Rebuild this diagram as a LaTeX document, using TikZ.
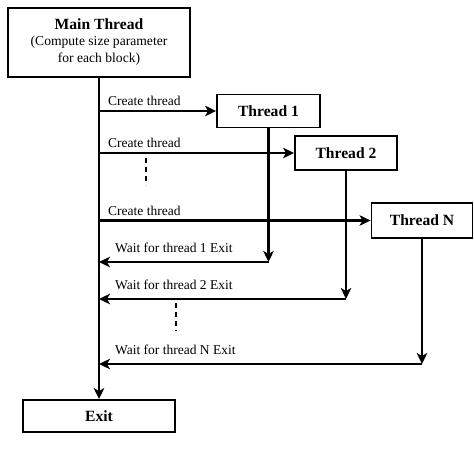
\documentclass[tikz,border=0pt]{standalone}
\usepackage{fontspec}
\setmainfont{Liberation Serif}
\usetikzlibrary{arrows.meta}
\begin{document}
\begin{tikzpicture}
[x=1pt,y=-1pt,
  boxdecorate/.style={shape=rectangle,draw,line width=1.9pt,inner sep=0pt,
    font=\fontsize{15.6}{17}\bfseries},%
  linedecorate/.style={line width=2.5pt,-{Stealth[length=11pt,width=10.5pt,inset=3pt]}},%
  labeldecorate/.style={anchor=south west,inner sep=0pt,font=\fontsize{13.5}{15}\selectfont},%
  dotdecorate/.style={line width=2pt,dash pattern=on 5pt off 4pt}]
\useasboundingbox (0,0) rectangle (474,457);
%%% main thread and exit
% nodes
\node (main) at (99,42.5) [boxdecorate,minimum width=182pt,minimum height=69pt,align=center]
  {Main Thread\\[-1pt]{\fontsize{13.6}{17}\mdseries\selectfont (Compute size parameter}\\
   {\fontsize{13.6}{17}\mdseries\selectfont for each block)}};
\node (exit) at (99,416) [boxdecorate,minimum width=152pt,minimum height=32pt] {Exit};
%%% worker threads
% nodes
\node (t1) at (268.5,111) [boxdecorate,minimum width=103pt,minimum height=33pt] {Thread 1};
\node (t2) at (346,153) [boxdecorate,minimum width=102pt,minimum height=34pt] {Thread 2};
\node (tn) at (422,220.5) [boxdecorate,minimum width=101pt,minimum height=35pt] {Thread N};
% corners where the threads end
\coordinate (w1) at (t1.south |- 0,262);
\coordinate (w2) at (t2.south |- 0,299);
\coordinate (wn) at (tn.south |- 0,364);
% edges or lines
\path
(main.south) edge[linedecorate] node {} (exit.north)
(main.south |- t1.west) edge[linedecorate] node {} (t1.west)
(main.south |- t2.west) edge[linedecorate] node {} (t2.west)
(main.south |- tn.west) edge[linedecorate] node {} (tn.west)
(t1.south) edge[linedecorate] node {} (w1)
(t2.south) edge[linedecorate] node {} (w2)
(tn.south) edge[linedecorate] node {} (wn)
(w1) edge[linedecorate] node {} (main.south |- w1)
(w2) edge[linedecorate] node {} (main.south |- w2)
(wn) edge[linedecorate] node {} (main.south |- wn);
% labels
\node (c1) at ([xshift=9pt,yshift=5pt]main.south |- t1.west) [labeldecorate] {Create thread};
\node (c2) at ([xshift=9pt,yshift=5pt]main.south |- t2.west) [labeldecorate] {Create thread};
\node (cn) at ([xshift=9pt,yshift=5pt]main.south |- tn.west) [labeldecorate] {Create thread};
\node (l1) at ([xshift=16pt,yshift=9pt]main.south |- w1) [labeldecorate] {Wait for thread 1 Exit};
\node (l2) at ([xshift=16pt,yshift=9pt]main.south |- w2) [labeldecorate] {Wait for thread 2 Exit};
\node (ln) at ([xshift=16pt,yshift=9pt]main.south |- wn) [labeldecorate] {Wait for thread N Exit};
% dots
\draw[dotdecorate] (146,158) -- (146,185);
\draw[dotdecorate] (176,303) -- (176,331);
\end{tikzpicture}
\end{document}
